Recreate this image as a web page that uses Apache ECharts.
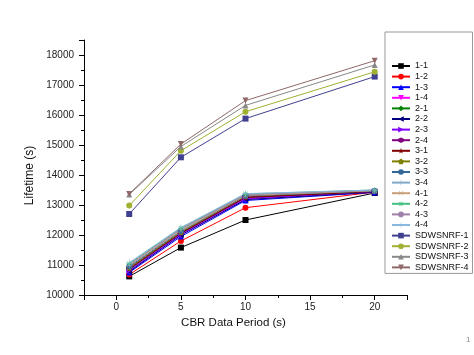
<!DOCTYPE html>
<html>
<head>
<meta charset="utf-8">
<script src="https://cdn.jsdelivr.net/npm/echarts@6/dist/echarts.min.js"></script>
<style>
html,body{margin:0;padding:0;background:#fff;}
#chart{width:474px;height:355px;}
</style>
</head>
<body>
<div id="chart"></div>
<script>
// CBR data periods (s)
const periods = [1, 5, 10, 20];
// Series names
const seriesNames = ['1-1','1-2','1-3','1-4','2-1','2-2','2-3','2-4','3-1','3-2','3-3','3-4','4-1','4-2','4-3','4-4','SDWSNRF-1','SDWSNRF-2','SDWSNRF-3','SDWSNRF-4'];
// Lifetime values (s)
const s1_1 = [10620, 11580, 12500, 13400];
const s1_2 = [10680, 11800, 12910, 13430];
const s1_3 = [10750, 11950, 13150, 13420];
const s1_4 = [10800, 12000, 13200, 13440];
const s2_1 = [10850, 12050, 13250, 13450];
const s2_2 = [10780, 12000, 13180, 13430];
const s2_3 = [10820, 12030, 13220, 13450];
const s2_4 = [10900, 12080, 13270, 13460];
const s3_1 = [10870, 12060, 13250, 13450];
const s3_2 = [10920, 12100, 13300, 13470];
const s3_3 = [10950, 12130, 13310, 13470];
const s3_4 = [10980, 12180, 13340, 13480];
const s4_1 = [11000, 12150, 13320, 13480];
const s4_2 = [11050, 12230, 13370, 13500];
const s4_3 = [11020, 12200, 13350, 13490];
const s4_4 = [11080, 12250, 13380, 13500];
const sd_1 = [12700, 14590, 15880, 17280];
const sd_2 = [12980, 14810, 16110, 17440];
const sd_3 = [13350, 14950, 16320, 17670];
const sd_4 = [13370, 15030, 16480, 17810];
const allValues = [s1_1,s1_2,s1_3,s1_4,s2_1,s2_2,s2_3,s2_4,s3_1,s3_2,s3_3,s3_4,s4_1,s4_2,s4_3,s4_4,sd_1,sd_2,sd_3,sd_4];

const P_HEX = 'path://M0,-10 L8.66,-5 L8.66,5 L0,10 L-8.66,5 L-8.66,-5 Z';
const P_STAR = 'path://M0,-10 L2.35,-3.24 L9.51,-3.09 L3.8,1.24 L5.88,8.09 L0,4 L-5.88,8.09 L-3.8,1.24 L-9.51,-3.09 L-2.35,-3.24 Z';
const P_PENT = 'path://M0,-10 L9.51,-3.09 L5.88,8.09 L-5.88,8.09 L-9.51,-3.09 Z';
const P_PLUS = 'path://M-0.8,-10 L0.8,-10 L0.8,-0.8 L10,-0.8 L10,0.8 L0.8,0.8 L0.8,10 L-0.8,10 L-0.8,0.8 L-10,0.8 L-10,-0.8 L-0.8,-0.8 Z';
const P_AST = 'path://M-0.8,-10 L0.8,-10 L0.8,-0.8 L10,-0.8 L10,0.8 L0.8,0.8 L0.8,10 L-0.8,10 L-0.8,0.8 L-10,0.8 L-10,-0.8 L-0.8,-0.8 Z M-7.6,-6.4 L-6.4,-7.6 L7.6,6.4 L6.4,7.6 Z M6.4,-7.6 L7.6,-6.4 L-6.4,7.6 L-7.6,6.4 Z';

const styles = [
  {c:'#000000', s:'rect'},
  {c:'#ff0000', s:'circle'},
  {c:'#0000ff', s:'triangle'},
  {c:'#ff00ff', s:'triangle', r:180},
  {c:'#008000', s:'diamond'},
  {c:'#000080', s:'triangle', r:90},
  {c:'#8000ff', s:'triangle', r:-90},
  {c:'#800080', s:P_HEX},
  {c:'#800000', s:P_STAR},
  {c:'#808000', s:P_PENT},
  {c:'#336699', s:'circle'},
  {c:'#80a8c8', s:P_PLUS},
  {c:'#c8a078', s:P_PLUS, r:45},
  {c:'#40c080', s:P_AST},
  {c:'#a080a8', s:'none'},
  {c:'#88b8e0', s:P_PLUS},
  {c:'#404090', s:'rect'},
  {c:'#a0b030', s:'circle'},
  {c:'#888888', s:'triangle'},
  {c:'#906868', s:'triangle', r:180}
];

const series = seriesNames.map((n, i) => ({
  name: n,
  type: 'line',
  data: periods.map((p, j) => [p, allValues[i][j]]),
  symbol: styles[i].s,
  symbolRotate: styles[i].r || 0,
  symbolSize: 6,
  showSymbol: styles[i].s !== 'none',
  lineStyle: {color: styles[i].c, width: 1},
  itemStyle: {color: styles[i].c},
  emphasis: {disabled: true},
  animation: false
}));

const chart = echarts.init(document.getElementById('chart'), null, {renderer: 'canvas'});
chart.setOption({
  animation: false,
  backgroundColor: '#ffffff',
  textStyle: {fontFamily: 'Liberation Sans, Arial, sans-serif'},
  grid: {left: 84, right: 67, top: 40, bottom: 60},
  xAxis: {
    type: 'value', min: -2.5, max: 22.5, splitNumber: 5,
    name: 'CBR Data Period (s)', nameLocation: 'middle', nameGap: 22,
    nameTextStyle: {fontSize: 11.5, color: '#111', fontFamily: 'Liberation Sans', padding: [0, 24, 0, 0]},
    axisLine: {show: true, onZero: false, lineStyle: {color: '#000', width: 1}},
    axisTick: {show: true, inside: false, length: 5, lineStyle: {color: '#000'}},
    minorTick: {show: true, splitNumber: 2, length: 3, lineStyle: {color: '#000'}},
    splitLine: {show: false},
    axisLabel: {fontSize: 10, color: '#222', margin: 7, fontFamily: 'Liberation Sans',
      showMinLabel: false, showMaxLabel: false,
      formatter: v => (Math.abs(v % 5) < 1e-9 ? String(v) : '')}
  },
  yAxis: {
    type: 'value', min: 10000, max: 18500, interval: 1000,
    name: 'Lifetime (s)', nameLocation: 'middle', nameGap: 48,
    nameTextStyle: {fontSize: 12, color: '#111', fontFamily: 'Liberation Sans', padding: [0, 16, 0, 0]},
    axisLine: {show: true, onZero: false, lineStyle: {color: '#000', width: 1}},
    axisTick: {show: true, inside: false, length: 5, lineStyle: {color: '#000'}},
    minorTick: {show: true, splitNumber: 2, length: 3, lineStyle: {color: '#000'}},
    splitLine: {show: false},
    axisLabel: {fontSize: 10, color: '#222', margin: 10, fontFamily: 'Liberation Sans',
      formatter: v => (v % 1000 === 0 ? String(v) : '')}
  },
  legend: {
    orient: 'vertical', left: 385, top: 32,
    padding: [29, 4, 1, 6],
    itemWidth: 18, itemHeight: 7, itemGap: 0.6,
    backgroundColor: '#ffffff', borderColor: '#999', borderWidth: 1,
    textStyle: {fontSize: 9, lineHeight: 10, color: '#111', fontFamily: 'Liberation Sans'},
    data: seriesNames
  },
  graphic: [{type: 'text', left: 466, top: 336, style: {text: '1', fontSize: 8, fill: '#888', fontFamily: 'Liberation Sans'}}],
  series: series
});
</script>
</body>
</html>
